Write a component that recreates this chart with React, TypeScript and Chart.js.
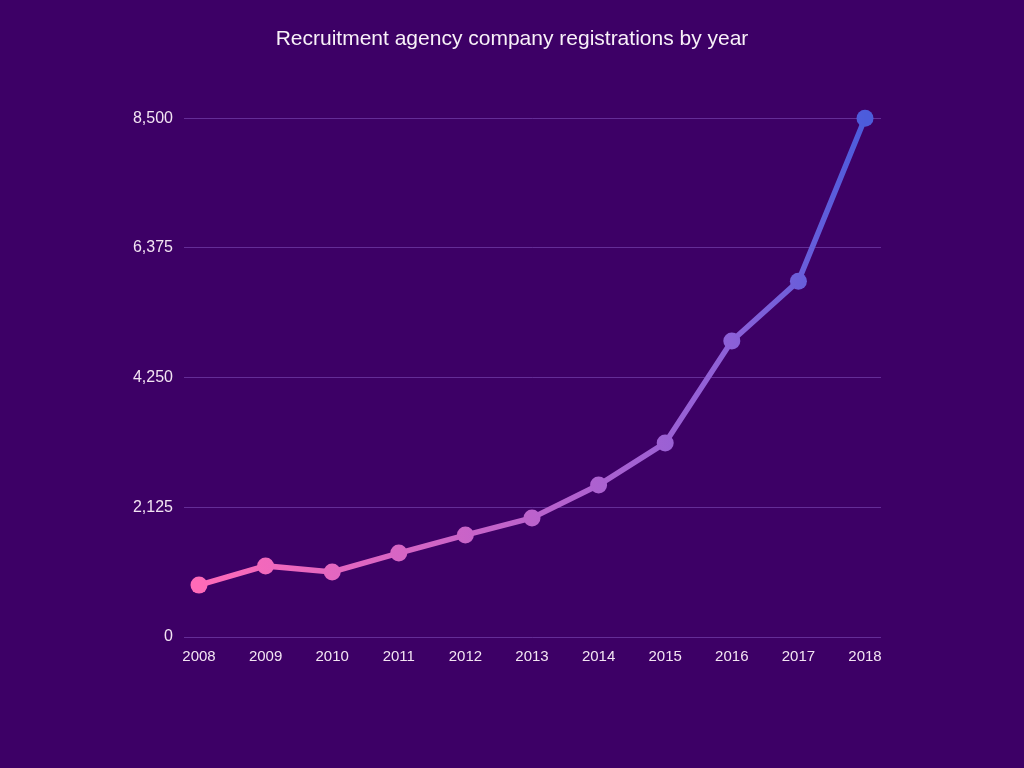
import React, { useEffect, useRef } from "react";
import { Chart, registerables } from "chart.js";

Chart.register(...registerables);

const years = [2008, 2009, 2010, 2011, 2012, 2013, 2014, 2015, 2016, 2017, 2018];
const registrations = [850, 1165, 1065, 1375, 1670, 1950, 2490, 3180, 4850, 5830, 8500];
const yTicks = [0, 2125, 4250, 6375, 8500];
const titleText = "Recruitment agency company registrations by year";

const BG = "#3d0066";
const TEXT = "#f3e4f3";
const FONT = "'Liberation Sans', Arial, sans-serif";

// Pink → violet → blue across the plotted years
function lineGradient(chart: Chart) {
  const area = chart.chartArea;
  if (!area) return "#b862cc";
  const xs = chart.scales.x;
  const x0 = xs.getPixelForValue(years[0]);
  const x1 = xs.getPixelForValue(years[years.length - 1]);
  const g = chart.ctx.createLinearGradient(x0, 0, x1, 0);
  g.addColorStop(0, "#ff6ab8");
  g.addColorStop(0.5, "#bc62cc");
  g.addColorStop(0.8, "#8c60d8");
  g.addColorStop(1, "#4c5cdc");
  return g;
}

const backgroundPlugin = {
  id: "bgFill",
  beforeDraw(chart: Chart) {
    const { ctx, width, height } = chart;
    ctx.save();
    ctx.fillStyle = BG;
    ctx.fillRect(0, 0, width, height);
    ctx.restore();
  },
};

export default function App() {
  const canvasRef = useRef<HTMLCanvasElement | null>(null);

  useEffect(() => {
    if (!canvasRef.current) return;
    const chart = new Chart(canvasRef.current, {
      type: "line",
      data: {
        datasets: [
          {
            data: years.map((y, i) => ({ x: y, y: registrations[i] })),
            borderWidth: 5.5,
            borderColor: (ctx: any) => lineGradient(ctx.chart),
            pointBackgroundColor: (ctx: any) => lineGradient(ctx.chart),
            pointBorderWidth: 0,
            pointRadius: 8.5,
            pointHoverRadius: 8.5,
            tension: 0,
            clip: false,
            yAxisID: "y",
          },
        ],
      },
      options: {
        animation: false,
        responsive: false,
        devicePixelRatio: 1,
        layout: { padding: 0 },
        plugins: {
          legend: { display: false },
          tooltip: { enabled: false },
          title: {
            display: true,
            text: titleText,
            color: "#f8f0f8",
            font: { family: FONT, size: 21, weight: "normal" },
            padding: { top: 27, bottom: 66 },
          },
        },
        scales: {
          x: {
            type: "linear",
            min: years[0] - 0.225,
            max: years[years.length - 1] + 0.24,
            afterBuildTicks: (scale: any) => {
              scale.ticks = years.map((v) => ({ value: v }));
            },
            afterFit: (scale: any) => {
              scale.height = 131;
            },
            grid: { display: false, drawTicks: false },
            border: { display: false },
            ticks: {
              color: TEXT,
              font: { family: FONT, size: 15 },
              padding: 11,
              autoSkip: false,
              maxRotation: 0,
              callback: (v: any) => String(v),
            },
          },
          y: {
            min: 0,
            max: yTicks[yTicks.length - 1],
            afterBuildTicks: (scale: any) => {
              scale.ticks = yTicks.map((v) => ({ value: v }));
            },
            afterFit: (scale: any) => {
              scale.width = 184;
            },
            grid: { color: "rgba(140, 90, 200, 0.5)", lineWidth: 1, drawTicks: false },
            border: { display: false },
            ticks: {
              color: TEXT,
              font: { family: FONT, size: 16 },
              padding: 11,
              callback: (v: any) => Number(v).toLocaleString("en-US"),
            },
          },
          // empty right-hand margin beside the plot
          right: {
            type: "linear",
            position: "right",
            display: true,
            afterFit: (scale: any) => {
              scale.width = 143;
            },
            grid: { display: false, drawTicks: false },
            border: { display: false },
            ticks: { display: false },
          },
        },
      },
      plugins: [backgroundPlugin],
    });
    return () => chart.destroy();
  }, []);

  return (
    <div style={{ position: "fixed", left: 0, top: 0, width: 1024, height: 768, background: BG }}>
      <canvas ref={canvasRef} width={1024} height={768} style={{ display: "block" }} />
    </div>
  );
}
